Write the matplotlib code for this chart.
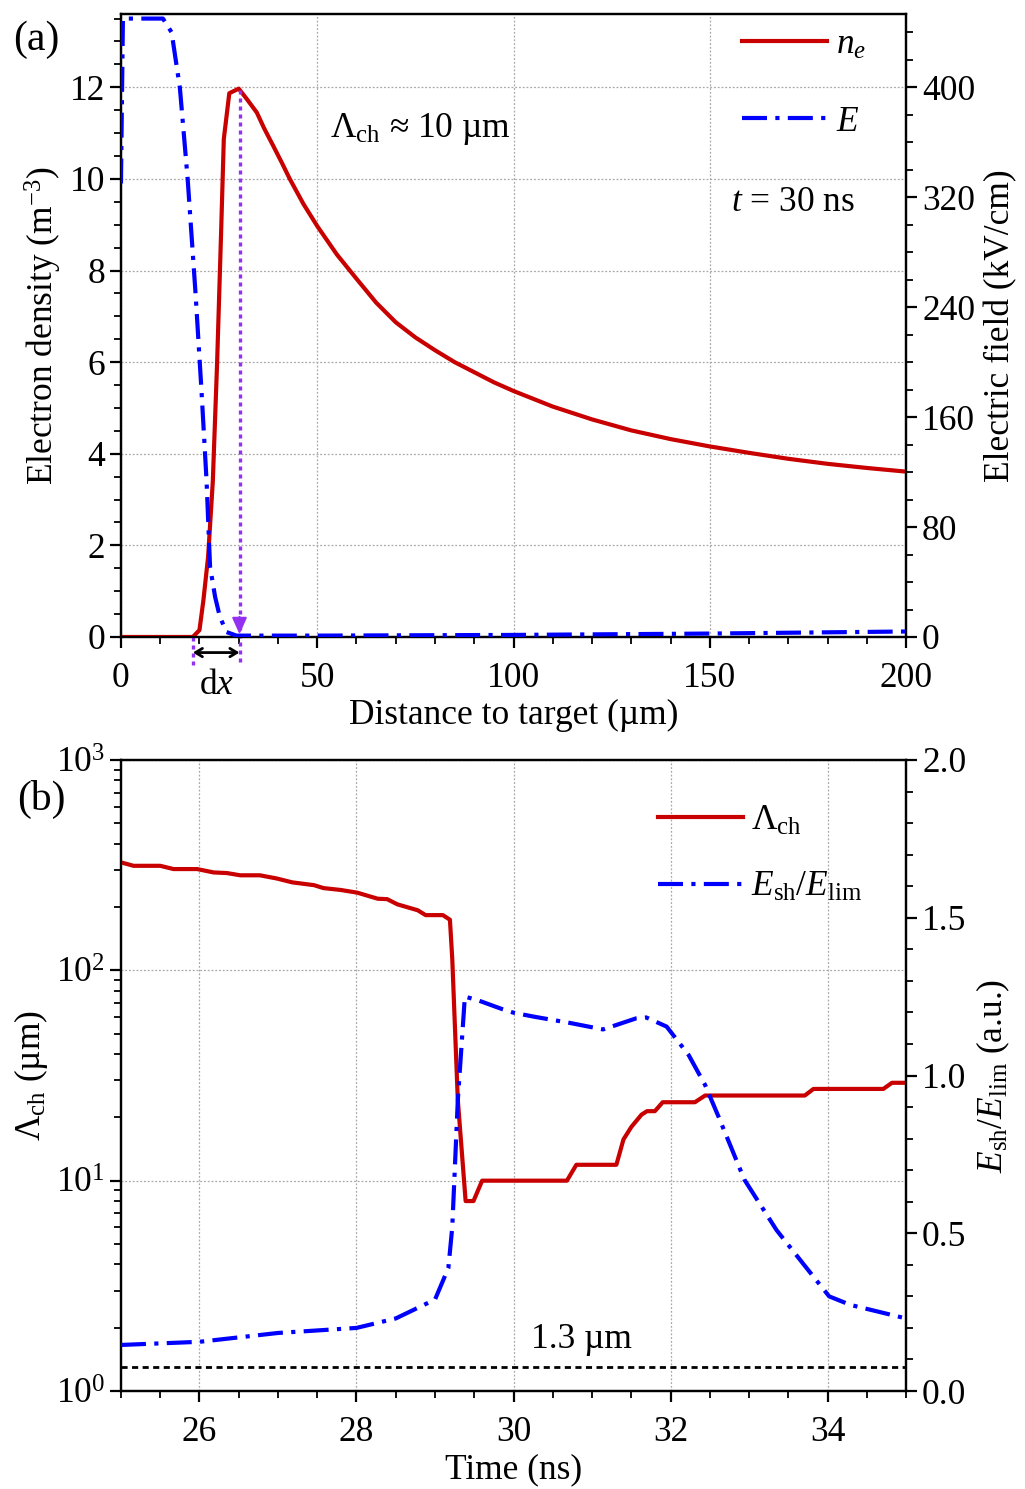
import matplotlib
matplotlib.use("Agg")
import matplotlib.pyplot as plt
from matplotlib.ticker import MultipleLocator, LogLocator, NullFormatter
from matplotlib.lines import Line2D

plt.rcParams['font.family'] = ['Liberation Serif', 'DejaVu Serif']
plt.rcParams['mathtext.fontset'] = 'custom'
plt.rcParams['mathtext.rm'] = 'Liberation Serif'
plt.rcParams['mathtext.it'] = 'Liberation Serif:italic'
plt.rcParams['mathtext.bf'] = 'Liberation Serif:bold'

# ---------------- data: panel (a) ----------------
x_ne = [0, 10, 18.3, 20, 21, 22.2, 23.4, 24.5, 25.5, 26.2, 27.6, 30, 32, 34.6, 36.5, 38.8, 41, 43,
        46.5, 50, 55, 60, 65, 70, 75, 80, 85, 90, 95, 100, 110, 120, 130, 140, 150, 160, 170, 180, 190, 200]
ne = [0, 0, 0, 0.15, 0.8, 1.75, 3.4, 6.0, 8.8, 10.87, 11.87, 11.97, 11.75, 11.45, 11.1, 10.72, 10.35, 10.0,
      9.45, 8.97, 8.35, 7.82, 7.3, 6.87, 6.54, 6.26, 6.0, 5.78, 5.56, 5.37, 5.03, 4.75, 4.51, 4.32, 4.16,
      4.02, 3.89, 3.78, 3.69, 3.61]

x_E = [0, 0.5, 10.7, 12.9, 15, 17, 19, 20.5, 21.8, 22.7, 24, 25.2, 26.9, 29.4, 50, 100, 150, 200]
E = [330, 450, 450, 440, 400, 333, 250, 180, 114, 51, 29, 14.6, 3.6, 1.0, 1.0, 1.5, 2.5, 4.0]

dx_left, dx_right = 18.3, 30.2
ne_peak = 11.95

# ---------------- data: panel (b) ----------------
t_L = [25.0, 25.16, 25.5, 25.67, 25.97, 26.18, 26.35, 26.52, 26.77, 26.99, 27.18, 27.46, 27.58,
       27.8, 28.01, 28.27, 28.39, 28.52, 28.78, 28.88, 29.1, 29.19, 29.22, 29.29, 29.39, 29.49,
       29.6, 30.68, 30.8, 31.31, 31.4, 31.5, 31.63, 31.7, 31.8, 31.9, 32.31, 32.44, 33.71, 33.82,
       34.71, 34.82, 35.0]
Lch = [326, 314, 314, 303, 303, 292, 290, 283, 283, 273, 262, 254, 246,
       241, 234, 219, 218, 206, 193, 183, 183, 174, 113, 24.3, 8.0, 8.0,
       10, 10, 11.9, 11.9, 15.7, 18, 20.6, 21.4, 21.4, 23.6, 23.6, 25.4, 25.4, 27.3,
       27.3, 29.2, 29.2]

t_R = [25.0, 26.0, 27.0, 28.0, 28.5, 29.0, 29.17, 29.22, 29.29, 29.36, 29.38, 29.54, 29.86,
       30.0, 30.27, 30.71, 31.14, 31.56, 31.69, 31.95, 32.23, 32.44, 32.61, 32.94, 33.35, 33.7,
       34.02, 34.29, 35.0]
Eratio = [0.146, 0.156, 0.184, 0.2, 0.23, 0.29, 0.39, 0.52, 0.92, 1.176, 1.25, 1.239, 1.21,
          1.199, 1.186, 1.167, 1.146, 1.181, 1.184, 1.155, 1.065, 0.97, 0.87, 0.67, 0.51, 0.40,
          0.30, 0.273, 0.23]

L_ref = 1.3

# ---------------- style ----------------
RED = '#c80000'
BLUE = '#0000ff'
PURPLE = '#9430f0'
FS = 25.5
LW = 3.0
DASHDOT = (6, 2.0, 1, 2.0)

fig = plt.figure(figsize=(10.25, 14.89), dpi=100)

def style_axis(ax):
    for s in ax.spines.values():
        s.set_linewidth(1.6)
    ax.tick_params(which='major', length=8, width=1.6, labelsize=FS, direction='out')
    ax.tick_params(which='minor', length=5, width=1.3, direction='out')

# ================= panel (a) =================
ax1 = fig.add_axes([0.118, 0.5722, 0.766, 0.4184])
ax1r = ax1.twinx()

ax1.plot(x_ne, ne, color=RED, lw=LW, zorder=3)
ax1r.plot(x_E, E, color=BLUE, lw=LW, dashes=DASHDOT, zorder=3)

ax1.set_xlim(0, 200)
ax1.set_ylim(0, 13.6)
ax1r.set_ylim(0, 13.6 * 400 / 12)
ax1.xaxis.set_major_locator(MultipleLocator(50))
ax1.xaxis.set_minor_locator(MultipleLocator(10))
ax1.yaxis.set_major_locator(MultipleLocator(2))
ax1.yaxis.set_minor_locator(MultipleLocator(0.5))
ax1r.yaxis.set_major_locator(MultipleLocator(80))
ax1r.yaxis.set_minor_locator(MultipleLocator(20))
ax1.grid(True, which='major', color='#a8a8a8', lw=0.9, ls=(0, (1.5, 1.5)))
style_axis(ax1)
style_axis(ax1r)
ax1.tick_params(axis='x', pad=10)

ax1.set_xlabel('Distance to target (µm)', fontsize=FS, labelpad=3)
ax1.set_ylabel('Electron density (m$^{-3}$)', fontsize=FS, labelpad=4)
ax1r.set_ylabel('Electric field (kV/cm)', fontsize=FS, labelpad=6)

# dx construction
ax1.plot([dx_left, dx_left], [0, -0.62], color=PURPLE, lw=2.4, ls=(0, (1.2, 1.2)), clip_on=False, zorder=4)
ax1.plot([dx_right, dx_right], [ne_peak, -0.62], color=PURPLE, lw=2.4, ls=(0, (1.2, 1.2)), clip_on=False, zorder=4)
ax1.annotate('', xy=(dx_right, 0), xytext=(dx_right, 0.5),
             arrowprops=dict(arrowstyle='-|>,head_length=1.0,head_width=0.45', color=PURPLE, lw=1.5),
             annotation_clip=False, zorder=5)
ax1.annotate('', xy=(dx_left, -0.34), xytext=(dx_right, -0.34),
             arrowprops=dict(arrowstyle='<->,head_length=0.5,head_width=0.3', color='black', lw=2.0,
                             shrinkA=0, shrinkB=0),
             annotation_clip=False)
ax1.text((dx_left + dx_right) / 2, -1.05, r'd$x$', fontsize=FS, ha='center', va='center')

ax1.text(53.2, 11.08, r'Λ$_{\rm ch}$ ≈ 10 µm', fontsize=FS, ha='left', va='center')
ax1.text(155.5, 9.49, r'$t$ = 30 ns', fontsize=FS, ha='left', va='center')

h1 = [Line2D([], [], color=RED, lw=LW), Line2D([], [], color=BLUE, lw=LW, dashes=DASHDOT)]
leg1 = ax1r.legend(h1, [r'$n_e$', r'$E$'], loc='upper right', bbox_to_anchor=(0.99, 1.028),
                   frameon=False, fontsize=FS, handlelength=2.4, handletextpad=0.25, labelspacing=1.25)

fig.text(0.035, 0.973, '(a)', fontsize=30, ha='center', va='center')

# ================= panel (b) =================
ax2 = fig.add_axes([0.118, 0.0658, 0.766, 0.4238])
ax2r = ax2.twinx()

ax2.plot(t_L, Lch, color=RED, lw=LW, zorder=3)
ax2.axhline(L_ref, color='black', lw=2.0, ls=(0, (2.2, 1.6)), zorder=3)
ax2r.plot(t_R, Eratio, color=BLUE, lw=LW, dashes=DASHDOT, zorder=3)

ax2.set_yscale('log')
ax2.set_xlim(25, 35)
ax2.set_ylim(1, 1000)
ax2r.set_ylim(0, 2.0)
ax2.xaxis.set_major_locator(MultipleLocator(2))
ax2.xaxis.set_minor_locator(MultipleLocator(0.5))
ax2.yaxis.set_major_locator(LogLocator(base=10, numticks=10))
ax2.yaxis.set_minor_locator(LogLocator(base=10, subs=range(2, 10), numticks=10))
ax2.yaxis.set_minor_formatter(NullFormatter())
ax2r.yaxis.set_major_locator(MultipleLocator(0.5))
ax2r.yaxis.set_minor_locator(MultipleLocator(0.1))
ax2r.yaxis.set_major_formatter(plt.FormatStrFormatter('%.1f'))
ax2.grid(True, which='major', color='#a8a8a8', lw=0.9, ls=(0, (1.5, 1.5)))
style_axis(ax2)
style_axis(ax2r)
ax2.tick_params(axis='x', pad=10)

ax2.set_xlabel('Time (ns)', fontsize=FS, labelpad=3)
ax2.set_ylabel(r'Λ$_{\rm ch}$ (µm)', fontsize=FS, labelpad=4)
ax2r.set_ylabel(r'$E_{\rm sh}/E_{\rm lim}$ (a.u.)', fontsize=FS, labelpad=6)

ax2.text(30.86, 1.75, '1.3 µm', fontsize=FS, ha='center', va='center')

h2 = [Line2D([], [], color=RED, lw=LW), Line2D([], [], color=BLUE, lw=LW, dashes=DASHDOT)]
leg2 = ax2r.legend(h2, [r'Λ$_{\rm ch}$', r'$E_{\rm sh}/E_{\rm lim}$'], loc='upper right',
                   bbox_to_anchor=(0.985, 0.98), frameon=False, fontsize=FS,
                   handlelength=2.4, handletextpad=0.25, labelspacing=0.95)

fig.text(0.040, 0.463, '(b)', fontsize=30, ha='center', va='center')

fig.savefig('out.png', dpi=100)
